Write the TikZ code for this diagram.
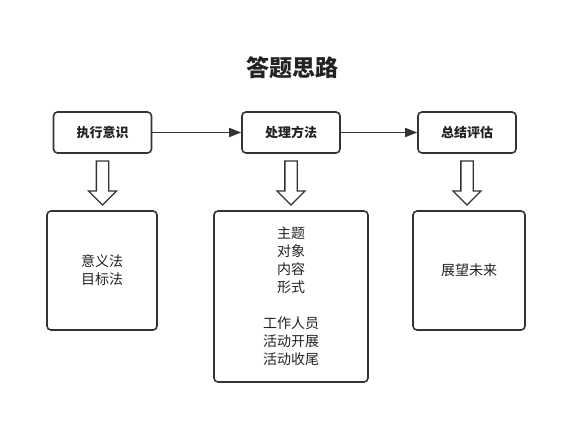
\documentclass[tikz,border=0pt]{standalone}
\usepackage{fontspec}
\setmainfont{Noto Sans CJK SC}
\usetikzlibrary{arrows.meta, positioning, shapes.arrows}
\definecolor{linegray}{HTML}{333333}
\definecolor{textgray}{HTML}{222222}

\begin{document}
\begin{tikzpicture}[x=1pt, y=-1pt,
  stepbox/.style={draw=linegray, line width=1.6pt, rounded corners=4pt, text=textgray,
    font=\fontsize{13}{16}\selectfont\bfseries, minimum width=98pt, minimum height=41pt},
  contentbox/.style={draw=linegray, line width=1.6pt, rounded corners=4pt, text=textgray,
    font=\fontsize{14}{18}\selectfont, align=center},
  hollowarrow/.style={single arrow, draw=linegray, line width=1.3pt, fill=white,
    shape border rotate=270, minimum height=44pt, minimum width=27pt,
    single arrow head extend=8pt, single arrow tip angle=90, inner sep=5.5pt},
  flow/.style={-{Triangle[length=12pt, width=9pt]}, line width=1.6pt, draw=linegray}]
\useasboundingbox (0,0) rectangle (586,443);
% Title
\node[font=\fontsize{23}{27}\selectfont\bfseries, text=textgray] (title) at (292,68) {答题思路};
% Top row
\node[stepbox] (exec) at (102.5,132.5) {执行意识};
\node[stepbox] (method) at (291,132.5) {处理方法};
\node[stepbox] (review) at (467,132.5) {总结评估};
\draw[flow] (exec) -- (method);
\draw[flow] (method) -- (review);
% Bottom row
\node[contentbox, minimum width=110pt, minimum height=119pt] (execdetail) at (102,270.5)
  {意义法\\目标法};
\node[contentbox, minimum width=154pt, minimum height=171pt] (methoddetail) at (291,296.5)
  {主题\\对象\\内容\\形式\\[18pt]工作人员\\活动开展\\活动收尾};
\node[contentbox, minimum width=112pt, minimum height=119pt] (reviewdetail) at (469,270.5)
  {展望未来};
% Hollow arrows
\node[hollowarrow] (arrA) at (102.5,180) {};
\node[hollowarrow] (arrB) at (291,180) {};
\node[hollowarrow] (arrC) at (467,180) {};
\end{tikzpicture}
\end{document}
